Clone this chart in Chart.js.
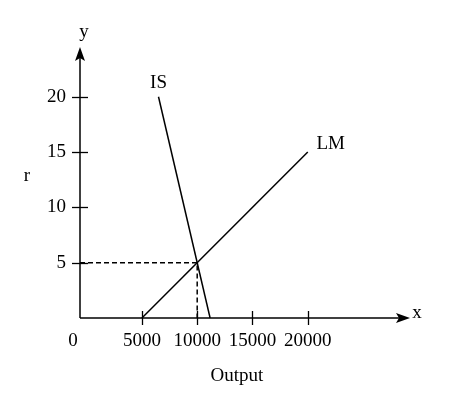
<!DOCTYPE html>
<html>
<head>
<meta charset="utf-8">
<script src="https://cdn.jsdelivr.net/npm/chart.js@4/dist/chart.umd.min.js"></script>
<style>
  html, body { margin: 0; padding: 0; background: #fff; }
  #wrap { width: 450px; height: 397px; }
</style>
</head>
<body>
<div id="wrap"><canvas id="islm"></canvas></div>
<script>
// data
const xMin = -600, xMax = 27800;
const yMin = 0, yMax = 24.5;
const xTicks = [5000, 10000, 15000, 20000];
const yTicks = [5, 10, 15, 20];
const isX = [6500, 11167];
const isR = [20, 0];
const lmX = [5000, 20000];
const lmR = [0, 15];
const eqX = [xMin, 10000, 10000];
const eqR = [5, 5, 0];

const FONT = 'Liberation Serif, Times New Roman, serif';

const pts = (xs, ys) => xs.map((x, i) => ({ x: x, y: ys[i] }));

// axes with arrows, crossing ticks and the loose labels
const axesPlugin = {
    id: 'axes',
    afterDraw(chart) {
        const ctx = chart.ctx;
        const xs = chart.scales.x, ys = chart.scales.y;
        const left = chart.chartArea.left, bottom = chart.chartArea.bottom;
        ctx.save();
        ctx.strokeStyle = '#000';
        ctx.fillStyle = '#000';
        ctx.lineWidth = 1.5;

        // y axis
        const yTop = chart.chartArea.top;
        ctx.beginPath();
        ctx.moveTo(left, bottom);
        ctx.lineTo(left, yTop + 8);
        ctx.stroke();
        ctx.beginPath();
        ctx.moveTo(left, yTop);
        ctx.lineTo(left - 5, yTop + 14);
        ctx.lineTo(left, yTop + 11);
        ctx.lineTo(left + 5, yTop + 14);
        ctx.closePath();
        ctx.fill();

        // x axis
        const xEnd = 410;
        ctx.beginPath();
        ctx.moveTo(left, bottom);
        ctx.lineTo(xEnd - 8, bottom);
        ctx.stroke();
        ctx.beginPath();
        ctx.moveTo(xEnd, bottom);
        ctx.lineTo(xEnd - 14, bottom - 5);
        ctx.lineTo(xEnd - 11, bottom);
        ctx.lineTo(xEnd - 14, bottom + 5);
        ctx.closePath();
        ctx.fill();

        // ticks across the axes
        ctx.lineWidth = 1.3;
        yTicks.forEach(v => {
            const p = Math.round(ys.getPixelForValue(v)) + 0.5;
            ctx.beginPath();
            ctx.moveTo(left - 8, p);
            ctx.lineTo(left + 8, p);
            ctx.stroke();
        });
        xTicks.forEach(v => {
            const p = Math.round(xs.getPixelForValue(v)) + 0.5;
            ctx.beginPath();
            ctx.moveTo(p, bottom - 7);
            ctx.lineTo(p, bottom + 7);
            ctx.stroke();
        });

        // labels
        ctx.font = '19px ' + FONT;
        ctx.textAlign = 'center';
        ctx.textBaseline = 'middle';
        ctx.fillText('y', left + 4, yTop - 15);
        ctx.fillText('x', xEnd + 7, bottom - 5);
        ctx.fillText('r', 27, 176);
        ctx.fillText('0', left - 7, 341);
        ctx.fillText('IS', xs.getPixelForValue(isX[0]), ys.getPixelForValue(isR[0]) - 14);
        ctx.fillText('LM', xs.getPixelForValue(lmX[1]) + 23, ys.getPixelForValue(lmR[1]) - 8);
        ctx.restore();
    }
};

new Chart(document.getElementById('islm'), {
    type: 'scatter',
    data: {
        datasets: [
            {
                label: 'IS',
                data: pts(isX, isR),
                showLine: true,
                borderColor: '#000',
                borderWidth: 1.5,
                pointRadius: 0
            },
            {
                label: 'LM',
                data: pts(lmX, lmR),
                showLine: true,
                borderColor: '#000',
                borderWidth: 1.5,
                pointRadius: 0
            },
            {
                label: 'equilibrium',
                data: pts(eqX, eqR),
                showLine: true,
                borderColor: '#000',
                borderWidth: 1.5,
                borderDash: [5, 3],
                pointRadius: 0
            }
        ]
    },
    options: {
        responsive: true,
        maintainAspectRatio: false,
        animation: false,
        layout: { padding: { top: 47, right: 56, left: 0, bottom: 0 } },
        plugins: {
            legend: { display: false },
            tooltip: { enabled: false }
        },
        scales: {
            x: {
                type: 'linear',
                min: xMin,
                max: xMax,
                afterBuildTicks: s => { s.ticks = xTicks.map(v => ({ value: v })); },
                afterFit: s => { s.height = 79; },
                grid: { display: false, drawTicks: true, tickLength: 7 },
                border: { display: false },
                ticks: {
                    color: '#000',
                    font: { family: FONT, size: 19 },
                    padding: 5,
                    maxRotation: 0,
                    autoSkip: false,
                    callback: v => String(v)
                },
                title: {
                    display: true,
                    text: 'Output',
                    color: '#000',
                    font: { family: FONT, size: 19 },
                    padding: { top: 0, bottom: 10 }
                }
            },
            y: {
                type: 'linear',
                min: yMin,
                max: yMax,
                afterBuildTicks: s => { s.ticks = yTicks.map(v => ({ value: v })); },
                afterFit: s => { s.width = 80; },
                grid: { display: false, drawTicks: true, tickLength: 8 },
                border: { display: false },
                ticks: {
                    color: '#000',
                    font: { family: FONT, size: 19 },
                    padding: 6,
                    callback: v => String(v)
                }
            }
        }
    },
    plugins: [axesPlugin]
});
</script>
</body>
</html>
